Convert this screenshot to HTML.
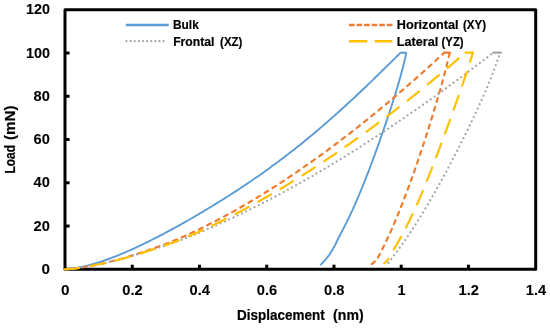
<!DOCTYPE html>
<html lang="en">
<head>
<meta charset="utf-8">
<title>Load vs Displacement</title>
<style>
html,body{margin:0;padding:0;background:#fff;}
body{width:550px;height:328px;overflow:hidden;}
svg{display:block;}
text{font-family:"Liberation Sans",sans-serif;font-weight:bold;fill:#000;stroke:#000;stroke-width:0.2px;}
.tk text{font-size:14.8px;stroke-width:0.08px;}
.ax{font-size:14.2px;}
.lg text{font-size:13.5px;}
</style>
</head>
<body>
<svg width="550" height="328" viewBox="0 0 550 328">
<rect x="0" y="0" width="550" height="328" fill="#fff"/>
<rect x="65" y="9.75" width="470.7" height="259.55" fill="none" stroke="#000" stroke-width="3" stroke-linejoin="round"/>
<g stroke="#000" stroke-width="3" stroke-linecap="butt">
<line x1="65" y1="226.04" x2="69.6" y2="226.04"/>
<line x1="65" y1="182.78" x2="69.6" y2="182.78"/>
<line x1="65" y1="139.52" x2="69.6" y2="139.52"/>
<line x1="65" y1="96.26" x2="69.6" y2="96.26"/>
<line x1="65" y1="53.00" x2="69.6" y2="53.00"/>
<line x1="132.24" y1="269.3" x2="132.24" y2="264.7"/>
<line x1="199.48" y1="269.3" x2="199.48" y2="264.7"/>
<line x1="266.72" y1="269.3" x2="266.72" y2="264.7"/>
<line x1="333.96" y1="269.3" x2="333.96" y2="264.7"/>
<line x1="401.20" y1="269.3" x2="401.20" y2="264.7"/>
<line x1="468.44" y1="269.3" x2="468.44" y2="264.7"/>
</g>
<g class="curves">
<path d="M65.0,269.3 L67.1,269.1 L69.2,268.9 L71.3,268.6 L73.4,268.4 L75.6,268.0 L77.7,267.7 L79.8,267.3 L81.9,266.8 L84.0,266.4 L86.1,265.9 L88.2,265.4 L90.3,264.8 L92.4,264.2 L94.5,263.6 L96.7,263.0 L98.8,262.3 L100.9,261.7 L103.0,261.0 L105.1,260.2 L107.2,259.5 L109.3,258.7 L111.4,257.9 L113.5,257.1 L115.7,256.3 L117.8,255.5 L119.9,254.6 L122.0,253.7 L124.1,252.8 L126.2,251.9 L128.3,251.0 L130.4,250.1 L132.5,249.1 L134.7,248.2 L136.8,247.2 L138.9,246.2 L141.0,245.2 L143.1,244.2 L145.2,243.2 L147.3,242.1 L149.4,241.1 L151.5,240.0 L153.6,238.9 L155.8,237.9 L157.9,236.8 L160.0,235.7 L162.1,234.6 L164.2,233.5 L166.3,232.3 L168.4,231.2 L170.5,230.1 L172.6,228.9 L174.8,227.8 L176.9,226.6 L179.0,225.4 L181.1,224.3 L183.2,223.1 L185.3,221.9 L187.4,220.7 L189.5,219.5 L191.6,218.3 L193.8,217.1 L195.9,215.8 L198.0,214.6 L200.1,213.3 L202.2,212.1 L204.3,210.8 L206.4,209.6 L208.5,208.3 L210.6,207.0 L212.7,205.7 L214.9,204.4 L217.0,203.1 L219.1,201.8 L221.2,200.5 L223.3,199.2 L225.4,197.9 L227.5,196.5 L229.6,195.2 L231.7,193.8 L233.9,192.4 L236.0,191.1 L238.1,189.7 L240.2,188.3 L242.3,186.9 L244.4,185.5 L246.5,184.1 L248.6,182.7 L250.7,181.2 L252.9,179.8 L255.0,178.3 L257.1,176.9 L259.2,175.4 L261.3,173.9 L263.4,172.4 L265.5,170.9 L267.6,169.4 L269.7,167.9 L271.8,166.3 L274.0,164.8 L276.1,163.2 L278.2,161.7 L280.3,160.1 L282.4,158.5 L284.5,156.9 L286.6,155.3 L288.7,153.7 L290.8,152.0 L293.0,150.4 L295.1,148.7 L297.2,147.1 L299.3,145.4 L301.4,143.7 L303.5,142.0 L305.6,140.3 L307.7,138.5 L309.8,136.8 L312.0,135.1 L314.1,133.3 L316.2,131.5 L318.3,129.7 L320.4,127.9 L322.5,126.1 L324.6,124.3 L326.7,122.5 L328.8,120.6 L330.9,118.8 L333.1,116.9 L335.2,115.0 L337.3,113.1 L339.4,111.2 L341.5,109.3 L343.6,107.4 L345.7,105.5 L347.8,103.5 L349.9,101.6 L352.1,99.6 L354.2,97.7 L356.3,95.7 L358.4,93.7 L360.5,91.7 L362.6,89.7 L364.7,87.7 L366.8,85.7 L368.9,83.6 L371.1,81.6 L373.2,79.6 L375.3,77.5 L377.4,75.5 L379.5,73.4 L381.6,71.3 L383.7,69.3 L385.8,67.2 L387.9,65.1 L390.0,63.1 L392.2,61.0 L394.3,58.9 L396.4,56.8 L398.5,54.8 L400.6,52.7 L406.2,52.7 L406.0,54.0 L405.7,55.4 L405.5,56.7 L405.2,58.0 L404.8,59.4 L404.5,60.7 L404.2,62.1 L403.9,63.4 L403.5,64.7 L403.2,66.1 L402.9,67.4 L402.5,68.7 L402.2,70.1 L401.8,71.4 L401.5,72.7 L401.1,74.1 L400.8,75.4 L400.4,76.8 L400.0,78.1 L399.6,79.4 L399.3,80.8 L398.9,82.1 L398.5,83.4 L398.1,84.8 L397.7,86.1 L397.3,87.4 L396.9,88.8 L396.5,90.1 L396.1,91.5 L395.7,92.8 L395.3,94.1 L394.9,95.5 L394.5,96.8 L394.0,98.1 L393.6,99.5 L393.2,100.8 L392.8,102.1 L392.3,103.5 L391.9,104.8 L391.5,106.2 L391.1,107.5 L390.6,108.8 L390.2,110.2 L389.7,111.5 L389.3,112.8 L388.9,114.2 L388.4,115.5 L388.0,116.9 L387.5,118.2 L387.1,119.5 L386.6,120.9 L386.2,122.2 L385.7,123.5 L385.3,124.9 L384.8,126.2 L384.3,127.5 L383.9,128.9 L383.4,130.2 L383.0,131.6 L382.5,132.9 L382.0,134.2 L381.6,135.6 L381.1,136.9 L380.6,138.2 L380.1,139.6 L379.7,140.9 L379.2,142.2 L378.7,143.6 L378.2,144.9 L377.8,146.3 L377.3,147.6 L376.8,148.9 L376.3,150.3 L375.8,151.6 L375.4,152.9 L374.9,154.3 L374.4,155.6 L373.9,156.9 L373.4,158.3 L372.9,159.6 L372.4,161.0 L371.9,162.3 L371.4,163.6 L370.9,165.0 L370.4,166.3 L369.9,167.6 L369.4,169.0 L368.9,170.3 L368.4,171.6 L367.9,173.0 L367.3,174.3 L366.8,175.7 L366.3,177.0 L365.8,178.3 L365.3,179.7 L364.7,181.0 L364.2,182.3 L363.7,183.7 L363.1,185.0 L362.6,186.3 L362.0,187.7 L361.5,189.0 L360.9,190.4 L360.4,191.7 L359.8,193.0 L359.3,194.4 L358.7,195.7 L358.2,197.0 L357.6,198.4 L357.0,199.7 L356.4,201.0 L355.8,202.4 L355.3,203.7 L354.7,205.1 L354.1,206.4 L353.5,207.7 L352.9,209.1 L352.3,210.4 L351.6,211.7 L351.0,213.1 L350.4,214.4 L349.8,215.8 L349.1,217.1 L348.5,218.4 L347.8,219.8 L347.2,221.1 L346.5,222.4 L345.9,223.8 L345.2,225.1 L344.5,226.4 L343.8,227.8 L343.1,229.1 L342.4,230.5 L341.7,231.8 L341.0,233.1 L340.3,234.5 L339.6,235.8 L338.9,237.1 L338.2,238.5 L337.6,239.8 L337.0,241.1 L336.3,242.5 L335.7,243.8 L335.0,245.2 L334.2,246.5 L333.5,247.8 L332.8,249.2 L332.0,250.5 L331.2,251.8 L330.4,253.2 L329.5,254.5 L328.5,255.8 L327.5,257.2 L326.4,258.5 L325.2,259.9 L324.1,261.2 L322.8,262.5 L321.5,263.9 L320.2,265.2" fill="none" stroke="#5B9BD5" stroke-width="1.9" stroke-linejoin="round"/>
<path d="M65.0,269.3 L67.4,269.2 L69.8,269.1 L72.2,268.8 L74.5,268.6 L76.9,268.2 L79.3,267.9 L81.7,267.5 L84.1,267.1 L86.5,266.6 L88.9,266.2 L91.2,265.7 L93.6,265.3 L96.0,264.8 L98.4,264.3 L100.8,263.8 L103.2,263.3 L105.6,262.8 L107.9,262.2 L110.3,261.6 L112.7,261.0 L115.1,260.4 L117.5,259.8 L119.9,259.1 L122.3,258.5 L124.6,257.8 L127.0,257.1 L129.4,256.4 L131.8,255.6 L134.2,254.9 L136.6,254.1 L139.0,253.3 L141.3,252.5 L143.7,251.7 L146.1,250.9 L148.5,250.1 L150.9,249.2 L153.3,248.4 L155.7,247.6 L158.0,246.7 L160.4,245.8 L162.8,245.0 L165.2,244.1 L167.6,243.2 L170.0,242.2 L172.3,241.3 L174.7,240.3 L177.1,239.3 L179.5,238.3 L181.9,237.3 L184.3,236.2 L186.7,235.2 L189.0,234.1 L191.4,233.0 L193.8,231.8 L196.2,230.7 L198.6,229.6 L201.0,228.4 L203.4,227.2 L205.7,226.0 L208.1,224.8 L210.5,223.6 L212.9,222.4 L215.3,221.2 L217.7,219.9 L220.1,218.7 L222.4,217.4 L224.8,216.1 L227.2,214.8 L229.6,213.5 L232.0,212.2 L234.4,210.9 L236.8,209.5 L239.1,208.2 L241.5,206.8 L243.9,205.4 L246.3,204.0 L248.7,202.6 L251.1,201.2 L253.5,199.8 L255.8,198.4 L258.2,196.9 L260.6,195.5 L263.0,194.0 L265.4,192.5 L267.8,191.0 L270.2,189.5 L272.5,188.0 L274.9,186.5 L277.3,184.9 L279.7,183.4 L282.1,181.8 L284.5,180.3 L286.9,178.7 L289.2,177.1 L291.6,175.5 L294.0,173.9 L296.4,172.3 L298.8,170.6 L301.2,169.0 L303.6,167.3 L305.9,165.7 L308.3,164.0 L310.7,162.3 L313.1,160.6 L315.5,158.9 L317.9,157.2 L320.3,155.5 L322.6,153.8 L325.0,152.0 L327.4,150.3 L329.8,148.5 L332.2,146.7 L334.6,145.0 L337.0,143.2 L339.3,141.4 L341.7,139.5 L344.1,137.7 L346.5,135.9 L348.9,134.0 L351.3,132.2 L353.6,130.3 L356.0,128.5 L358.4,126.6 L360.8,124.7 L363.2,122.8 L365.6,120.9 L368.0,119.0 L370.3,117.0 L372.7,115.1 L375.1,113.1 L377.5,111.2 L379.9,109.2 L382.3,107.3 L384.7,105.3 L387.0,103.3 L389.4,101.3 L391.8,99.3 L394.2,97.2 L396.6,95.2 L399.0,93.2 L401.4,91.1 L403.7,89.1 L406.1,87.0 L408.5,84.9 L410.9,82.8 L413.3,80.7 L415.7,78.6 L418.1,76.5 L420.4,74.4 L422.8,72.3 L425.2,70.1 L427.6,68.0 L430.0,65.8 L432.4,63.7 L434.8,61.5 L437.1,59.3 L439.5,57.1 L441.9,54.9 L444.3,52.7" fill="none" stroke="#ED7D31" stroke-width="2.2" stroke-linecap="round" stroke-dasharray="4.10,5.30" stroke-dashoffset="0.64"/>
<path d="M449.8,52.7 L449.4,54.0 L449.1,55.4 L448.8,56.7 L448.4,58.0 L448.1,59.4 L447.8,60.7 L447.5,62.0 L447.2,63.4 L446.8,64.7 L446.5,66.0 L446.2,67.4 L445.8,68.7 L445.5,70.0 L445.2,71.4 L444.8,72.7 L444.5,74.0 L444.1,75.4 L443.8,76.7 L443.4,78.0 L443.0,79.4 L442.7,80.7 L442.3,82.0 L442.0,83.4 L441.6,84.7 L441.2,86.0 L440.8,87.4 L440.5,88.7 L440.1,90.0 L439.7,91.3 L439.3,92.7 L439.0,94.0 L438.6,95.3 L438.2,96.7 L437.8,98.0 L437.4,99.3 L437.0,100.7 L436.6,102.0 L436.2,103.3 L435.8,104.7 L435.4,106.0 L435.0,107.3 L434.6,108.7 L434.2,110.0 L433.8,111.3 L433.4,112.7 L433.0,114.0 L432.6,115.3 L432.2,116.7 L431.8,118.0 L431.4,119.3 L431.0,120.7 L430.6,122.0 L430.1,123.3 L429.7,124.7 L429.3,126.0 L428.9,127.3 L428.5,128.7 L428.0,130.0 L427.6,131.3 L427.2,132.7 L426.8,134.0 L426.3,135.3 L425.9,136.7 L425.5,138.0 L425.1,139.3 L424.6,140.7 L424.2,142.0 L423.8,143.3 L423.3,144.7 L422.9,146.0 L422.4,147.3 L422.0,148.7 L421.6,150.0 L421.1,151.3 L420.7,152.7 L420.2,154.0 L419.8,155.3 L419.3,156.7 L418.9,158.0 L418.4,159.3 L418.0,160.6 L417.5,162.0 L417.1,163.3 L416.6,164.6 L416.1,166.0 L415.7,167.3 L415.2,168.6 L414.7,170.0 L414.3,171.3 L413.8,172.6 L413.3,174.0 L412.9,175.3 L412.4,176.6 L411.9,178.0 L411.4,179.3 L411.0,180.6 L410.5,182.0 L410.0,183.3 L409.5,184.6 L409.0,186.0 L408.5,187.3 L408.0,188.6 L407.6,190.0 L407.1,191.3 L406.6,192.6 L406.1,194.0 L405.5,195.3 L405.0,196.6 L404.5,198.0 L404.0,199.3 L403.5,200.6 L403.0,202.0 L402.5,203.3 L401.9,204.6 L401.4,206.0 L400.9,207.3 L400.4,208.6 L399.8,210.0 L399.3,211.3 L398.7,212.6 L398.2,214.0 L397.6,215.3 L397.1,216.6 L396.5,218.0 L396.0,219.3 L395.4,220.6 L394.8,222.0 L394.3,223.3 L393.7,224.6 L393.1,226.0 L392.5,227.3 L392.0,228.6 L391.4,229.9 L390.8,231.3 L390.2,232.6 L389.6,233.9 L388.9,235.3 L388.3,236.6 L387.7,237.9 L387.1,239.3 L386.5,240.6 L385.8,241.9 L385.2,243.3 L384.5,244.6 L383.9,245.9 L383.2,247.3 L382.6,248.6 L381.9,249.9 L381.2,251.3 L380.6,252.6 L379.9,253.9 L379.2,255.3 L378.4,256.6 L377.6,257.9 L376.7,259.3 L375.7,260.6 L374.4,261.9 L372.9,263.3 L370.4,264.6" fill="none" stroke="#ED7D31" stroke-width="2.2" stroke-linecap="round" stroke-dasharray="4.00,5.25" stroke-dashoffset="8.56"/>
<path d="M444.3,52.7 L449.8,52.7" fill="none" stroke="#ED7D31" stroke-width="2.2" stroke-linecap="round"/>
<path d="M65.0,269.3 L67.7,269.2 L70.4,269.0 L73.1,268.7 L75.8,268.3 L78.5,267.9 L81.2,267.4 L83.9,266.9 L86.5,266.4 L89.2,265.9 L91.9,265.4 L94.6,264.9 L97.3,264.4 L100.0,263.8 L102.7,263.3 L105.4,262.7 L108.1,262.1 L110.8,261.5 L113.5,260.8 L116.2,260.2 L118.9,259.5 L121.6,258.8 L124.2,258.1 L126.9,257.3 L129.6,256.6 L132.3,255.8 L135.0,255.0 L137.7,254.2 L140.4,253.4 L143.1,252.6 L145.8,251.7 L148.5,250.9 L151.2,250.1 L153.9,249.2 L156.6,248.4 L159.3,247.5 L162.0,246.7 L164.6,245.8 L167.3,244.9 L170.0,244.0 L172.7,243.0 L175.4,242.1 L178.1,241.1 L180.8,240.1 L183.5,239.1 L186.2,238.0 L188.9,236.9 L191.6,235.9 L194.3,234.8 L197.0,233.7 L199.7,232.5 L202.3,231.4 L205.0,230.3 L207.7,229.1 L210.4,227.9 L213.1,226.8 L215.8,225.6 L218.5,224.4 L221.2,223.1 L223.9,221.9 L226.6,220.7 L229.3,219.4 L232.0,218.2 L234.7,216.9 L237.4,215.6 L240.1,214.3 L242.7,213.0 L245.4,211.7 L248.1,210.4 L250.8,209.1 L253.5,207.7 L256.2,206.4 L258.9,205.0 L261.6,203.6 L264.3,202.2 L267.0,200.8 L269.7,199.4 L272.4,198.0 L275.1,196.6 L277.8,195.2 L280.4,193.7 L283.1,192.3 L285.8,190.8 L288.5,189.3 L291.2,187.9 L293.9,186.4 L296.6,184.9 L299.3,183.4 L302.0,181.8 L304.7,180.3 L307.4,178.8 L310.1,177.2 L312.8,175.7 L315.5,174.1 L318.1,172.5 L320.8,171.0 L323.5,169.4 L326.2,167.8 L328.9,166.2 L331.6,164.5 L334.3,162.9 L337.0,161.3 L339.7,159.6 L342.4,158.0 L345.1,156.3 L347.8,154.6 L350.5,153.0 L353.2,151.3 L355.9,149.6 L358.5,147.9 L361.2,146.2 L363.9,144.4 L366.6,142.7 L369.3,141.0 L372.0,139.2 L374.7,137.5 L377.4,135.7 L380.1,134.0 L382.8,132.2 L385.5,130.4 L388.2,128.6 L390.9,126.8 L393.6,125.0 L396.2,123.2 L398.9,121.3 L401.6,119.5 L404.3,117.7 L407.0,115.8 L409.7,114.0 L412.4,112.1 L415.1,110.2 L417.8,108.3 L420.5,106.5 L423.2,104.6 L425.9,102.7 L428.6,100.8 L431.3,98.8 L434.0,96.9 L436.6,95.0 L439.3,93.0 L442.0,91.1 L444.7,89.1 L447.4,87.2 L450.1,85.2 L452.8,83.2 L455.5,81.2 L458.2,79.2 L460.9,77.3 L463.6,75.2 L466.3,73.2 L469.0,71.2 L471.7,69.2 L474.3,67.1 L477.0,65.1 L479.7,63.1 L482.4,61.0 L485.1,58.9 L487.8,56.9 L490.5,54.8 L493.2,52.7" fill="none" stroke="#A5A5A5" stroke-width="2.2" stroke-linecap="round" stroke-dasharray="0.01,4.69" stroke-dashoffset="1.56"/>
<path d="M500.8,52.7 L500.0,54.0 L499.3,55.4 L498.7,56.7 L498.3,58.0 L497.8,59.4 L497.4,60.7 L496.9,62.1 L496.5,63.4 L496.0,64.7 L495.5,66.1 L495.0,67.4 L494.5,68.7 L494.0,70.1 L493.5,71.4 L493.0,72.8 L492.4,74.1 L491.9,75.4 L491.4,76.8 L490.9,78.1 L490.3,79.4 L489.8,80.8 L489.2,82.1 L488.7,83.5 L488.1,84.8 L487.6,86.1 L487.0,87.5 L486.4,88.8 L485.9,90.1 L485.3,91.5 L484.7,92.8 L484.1,94.2 L483.6,95.5 L483.0,96.8 L482.4,98.2 L481.8,99.5 L481.2,100.8 L480.6,102.2 L480.0,103.5 L479.4,104.8 L478.8,106.2 L478.2,107.5 L477.6,108.9 L476.9,110.2 L476.3,111.5 L475.7,112.9 L475.1,114.2 L474.4,115.5 L473.8,116.9 L473.2,118.2 L472.5,119.6 L471.9,120.9 L471.3,122.2 L470.6,123.6 L470.0,124.9 L469.3,126.2 L468.7,127.6 L468.0,128.9 L467.4,130.3 L466.7,131.6 L466.1,132.9 L465.4,134.3 L464.8,135.6 L464.1,136.9 L463.4,138.3 L462.8,139.6 L462.1,140.9 L461.4,142.3 L460.8,143.6 L460.1,145.0 L459.4,146.3 L458.7,147.6 L458.0,149.0 L457.4,150.3 L456.7,151.6 L456.0,153.0 L455.3,154.3 L454.6,155.7 L453.9,157.0 L453.2,158.3 L452.5,159.7 L451.8,161.0 L451.1,162.3 L450.4,163.7 L449.7,165.0 L449.0,166.4 L448.3,167.7 L447.6,169.0 L446.9,170.4 L446.2,171.7 L445.4,173.0 L444.7,174.4 L444.0,175.7 L443.3,177.1 L442.5,178.4 L441.8,179.7 L441.1,181.1 L440.3,182.4 L439.6,183.7 L438.9,185.1 L438.1,186.4 L437.4,187.7 L436.6,189.1 L435.9,190.4 L435.1,191.8 L434.3,193.1 L433.6,194.4 L432.8,195.8 L432.0,197.1 L431.3,198.4 L430.5,199.8 L429.7,201.1 L428.9,202.5 L428.2,203.8 L427.4,205.1 L426.6,206.5 L425.8,207.8 L425.0,209.1 L424.2,210.5 L423.4,211.8 L422.5,213.2 L421.7,214.5 L420.9,215.8 L420.1,217.2 L419.3,218.5 L418.4,219.8 L417.6,221.2 L416.7,222.5 L415.9,223.8 L415.0,225.2 L414.2,226.5 L413.3,227.9 L412.4,229.2 L411.6,230.5 L410.7,231.9 L409.8,233.2 L408.9,234.5 L408.0,235.9 L407.1,237.2 L406.2,238.6 L405.3,239.9 L404.4,241.2 L403.4,242.6 L402.5,243.9 L401.5,245.2 L400.6,246.6 L399.6,247.9 L398.7,249.3 L397.7,250.6 L396.7,251.9 L395.7,253.3 L394.7,254.6 L393.7,255.9 L392.7,257.3 L391.7,258.6 L390.7,260.0 L389.6,261.3 L388.6,262.6 L387.6,264.0 L386.5,265.3" fill="none" stroke="#A5A5A5" stroke-width="2.2" stroke-linecap="round" stroke-dasharray="0.01,4.69" stroke-dashoffset="0.62"/>
<path d="M493.2,52.7 L500.8,52.7" fill="none" stroke="#A5A5A5" stroke-width="2.2" stroke-linecap="round"/>
<path d="M65.0,269.3 L67.5,269.2 L70.0,269.0 L72.6,268.8 L75.1,268.5 L77.6,268.1 L80.1,267.7 L82.6,267.3 L85.1,266.9 L87.7,266.4 L90.2,266.0 L92.7,265.5 L95.2,265.0 L97.7,264.5 L100.3,264.0 L102.8,263.5 L105.3,263.0 L107.8,262.4 L110.3,261.8 L112.8,261.2 L115.4,260.6 L117.9,260.0 L120.4,259.3 L122.9,258.6 L125.4,257.9 L128.0,257.2 L130.5,256.5 L133.0,255.8 L135.5,255.0 L138.0,254.2 L140.5,253.4 L143.1,252.6 L145.6,251.8 L148.1,251.0 L150.6,250.2 L153.1,249.4 L155.7,248.5 L158.2,247.7 L160.7,246.9 L163.2,246.0 L165.7,245.1 L168.2,244.2 L170.8,243.3 L173.3,242.4 L175.8,241.4 L178.3,240.4 L180.8,239.4 L183.4,238.4 L185.9,237.4 L188.4,236.3 L190.9,235.2 L193.4,234.1 L195.9,233.0 L198.5,231.9 L201.0,230.7 L203.5,229.6 L206.0,228.4 L208.5,227.3 L211.1,226.1 L213.6,224.9 L216.1,223.7 L218.6,222.4 L221.1,221.2 L223.6,220.0 L226.2,218.7 L228.7,217.4 L231.2,216.2 L233.7,214.9 L236.2,213.6 L238.8,212.2 L241.3,210.9 L243.8,209.6 L246.3,208.2 L248.8,206.9 L251.3,205.5 L253.9,204.1 L256.4,202.7 L258.9,201.3 L261.4,199.9 L263.9,198.5 L266.5,197.0 L269.0,195.6 L271.5,194.1 L274.0,192.6 L276.5,191.2 L279.1,189.7 L281.6,188.2 L284.1,186.7 L286.6,185.1 L289.1,183.6 L291.6,182.1 L294.2,180.5 L296.7,178.9 L299.2,177.4 L301.7,175.8 L304.2,174.2 L306.8,172.6 L309.3,171.0 L311.8,169.3 L314.3,167.7 L316.8,166.1 L319.3,164.4 L321.9,162.7 L324.4,161.1 L326.9,159.4 L329.4,157.7 L331.9,156.0 L334.5,154.3 L337.0,152.6 L339.5,150.8 L342.0,149.1 L344.5,147.3 L347.0,145.6 L349.6,143.8 L352.1,142.0 L354.6,140.2 L357.1,138.4 L359.6,136.6 L362.2,134.8 L364.7,133.0 L367.2,131.1 L369.7,129.3 L372.2,127.5 L374.7,125.6 L377.3,123.7 L379.8,121.8 L382.3,119.9 L384.8,118.0 L387.3,116.1 L389.9,114.2 L392.4,112.3 L394.9,110.4 L397.4,108.4 L399.9,106.5 L402.4,104.5 L405.0,102.5 L407.5,100.6 L410.0,98.6 L412.5,96.6 L415.0,94.6 L417.6,92.6 L420.1,90.5 L422.6,88.5 L425.1,86.5 L427.6,84.4 L430.1,82.4 L432.7,80.3 L435.2,78.2 L437.7,76.1 L440.2,74.1 L442.7,72.0 L445.3,69.9 L447.8,67.7 L450.3,65.6 L452.8,63.5 L455.3,61.3 L457.8,59.2 L460.4,57.0 L462.9,54.9 L465.4,52.7" fill="none" stroke="#FFC000" stroke-width="2.2" stroke-linecap="round" stroke-dasharray="14.60,11.20" stroke-dashoffset="0.19"/>
<path d="M473.0,52.7 L472.5,54.0 L472.1,55.3 L471.7,56.7 L471.3,58.0 L470.8,59.3 L470.4,60.6 L470.0,62.0 L469.6,63.3 L469.2,64.6 L468.7,65.9 L468.3,67.3 L467.9,68.6 L467.4,69.9 L467.0,71.2 L466.6,72.6 L466.1,73.9 L465.7,75.2 L465.2,76.5 L464.8,77.9 L464.3,79.2 L463.9,80.5 L463.4,81.8 L463.0,83.2 L462.5,84.5 L462.1,85.8 L461.6,87.1 L461.1,88.5 L460.7,89.8 L460.2,91.1 L459.8,92.4 L459.3,93.8 L458.8,95.1 L458.4,96.4 L457.9,97.7 L457.4,99.1 L457.0,100.4 L456.5,101.7 L456.0,103.0 L455.6,104.4 L455.1,105.7 L454.6,107.0 L454.1,108.3 L453.7,109.7 L453.2,111.0 L452.7,112.3 L452.2,113.6 L451.8,115.0 L451.3,116.3 L450.8,117.6 L450.3,118.9 L449.8,120.3 L449.4,121.6 L448.9,122.9 L448.4,124.2 L447.9,125.5 L447.4,126.9 L446.9,128.2 L446.5,129.5 L446.0,130.8 L445.5,132.2 L445.0,133.5 L444.5,134.8 L444.0,136.1 L443.5,137.5 L443.0,138.8 L442.6,140.1 L442.1,141.4 L441.6,142.8 L441.1,144.1 L440.6,145.4 L440.1,146.7 L439.6,148.1 L439.1,149.4 L438.6,150.7 L438.1,152.0 L437.6,153.4 L437.1,154.7 L436.6,156.0 L436.1,157.3 L435.6,158.7 L435.1,160.0 L434.6,161.3 L434.1,162.6 L433.6,164.0 L433.1,165.3 L432.6,166.6 L432.0,167.9 L431.5,169.3 L431.0,170.6 L430.5,171.9 L430.0,173.2 L429.4,174.6 L428.9,175.9 L428.4,177.2 L427.9,178.5 L427.3,179.9 L426.8,181.2 L426.3,182.5 L425.7,183.8 L425.2,185.2 L424.6,186.5 L424.1,187.8 L423.5,189.1 L423.0,190.5 L422.4,191.8 L421.9,193.1 L421.3,194.4 L420.8,195.7 L420.2,197.1 L419.6,198.4 L419.0,199.7 L418.5,201.0 L417.9,202.4 L417.3,203.7 L416.7,205.0 L416.1,206.3 L415.5,207.7 L414.9,209.0 L414.3,210.3 L413.7,211.6 L413.1,213.0 L412.5,214.3 L411.8,215.6 L411.2,216.9 L410.6,218.3 L409.9,219.6 L409.3,220.9 L408.6,222.2 L408.0,223.6 L407.3,224.9 L406.7,226.2 L406.0,227.5 L405.3,228.9 L404.6,230.2 L403.9,231.5 L403.2,232.8 L402.5,234.2 L401.8,235.5 L401.1,236.8 L400.3,238.1 L399.6,239.5 L398.9,240.8 L398.1,242.1 L397.4,243.4 L396.6,244.8 L395.8,246.1 L395.0,247.4 L394.2,248.7 L393.4,250.1 L392.6,251.4 L391.8,252.7 L390.9,254.0 L390.1,255.4 L389.4,256.7 L388.8,258.0 L388.0,259.3 L387.0,260.7 L385.7,262.0 L384.2,263.3" fill="none" stroke="#FFC000" stroke-width="2.2" stroke-linecap="round" stroke-dasharray="14.60,10.80" stroke-dashoffset="5.20"/>
<path d="M465.4,52.7 L473.0,52.7" fill="none" stroke="#FFC000" stroke-width="2.2" stroke-linecap="round"/>
</g>
<g class="tk">
<text x="49.9" y="273.8" text-anchor="end" textLength="8.5" lengthAdjust="spacingAndGlyphs">0</text>
<text x="49.9" y="230.5" text-anchor="end" textLength="16.3" lengthAdjust="spacingAndGlyphs">20</text>
<text x="49.9" y="187.3" text-anchor="end" textLength="16.3" lengthAdjust="spacingAndGlyphs">40</text>
<text x="49.9" y="144.0" text-anchor="end" textLength="16.3" lengthAdjust="spacingAndGlyphs">60</text>
<text x="49.9" y="100.8" text-anchor="end" textLength="16.3" lengthAdjust="spacingAndGlyphs">80</text>
<text x="49.9" y="57.5" text-anchor="end" textLength="24.0" lengthAdjust="spacingAndGlyphs">100</text>
<text x="49.9" y="14.2" text-anchor="end" textLength="24.0" lengthAdjust="spacingAndGlyphs">120</text>
<text x="65.3" y="295.4" text-anchor="middle" textLength="8.5" lengthAdjust="spacingAndGlyphs">0</text>
<text x="132.5" y="295.4" text-anchor="middle" textLength="20.4" lengthAdjust="spacingAndGlyphs">0.2</text>
<text x="199.8" y="295.4" text-anchor="middle" textLength="20.4" lengthAdjust="spacingAndGlyphs">0.4</text>
<text x="267.0" y="295.4" text-anchor="middle" textLength="20.4" lengthAdjust="spacingAndGlyphs">0.6</text>
<text x="334.3" y="295.4" text-anchor="middle" textLength="20.4" lengthAdjust="spacingAndGlyphs">0.8</text>
<text x="401.5" y="295.4" text-anchor="middle" textLength="8.1" lengthAdjust="spacingAndGlyphs">1</text>
<text x="468.7" y="295.4" text-anchor="middle" textLength="20.4" lengthAdjust="spacingAndGlyphs">1.2</text>
<text x="536.0" y="295.4" text-anchor="middle" textLength="20.4" lengthAdjust="spacingAndGlyphs">1.4</text>
</g>
<text class="ax" y="319.9"><tspan x="237.1" textLength="87.6" lengthAdjust="spacingAndGlyphs">Displacement</tspan> <tspan x="333.1" textLength="30.5" lengthAdjust="spacingAndGlyphs">(nm)</tspan></text>
<text class="ax" transform="translate(14.8,0) rotate(-90)" y="0"><tspan x="-173.5" textLength="28.5" lengthAdjust="spacingAndGlyphs">Load</tspan> <tspan x="-140" textLength="34.5" lengthAdjust="spacingAndGlyphs">(mN)</tspan></text>
<g class="lg">
<line x1="125.8" y1="25" x2="168.7" y2="25" stroke="#5B9BD5" stroke-width="2.3"/>
<text x="173.0" y="29.1" textLength="25.8" lengthAdjust="spacingAndGlyphs">Bulk</text>
<line x1="126.5" y1="41.2" x2="165" y2="41.2" stroke="#A5A5A5" stroke-width="2.2" stroke-linecap="round" stroke-dasharray="0.01,4.11"/>
<text y="45.5"><tspan x="173.2" textLength="41.2" lengthAdjust="spacingAndGlyphs">Frontal</tspan> <tspan x="220.1" textLength="22.2" lengthAdjust="spacingAndGlyphs">(XZ)</tspan></text>
<line x1="349" y1="25" x2="392.4" y2="25" stroke="#ED7D31" stroke-width="2.4" stroke-dasharray="5.6,1.96"/>
<text y="29.3"><tspan x="396.8" textLength="61.8" lengthAdjust="spacingAndGlyphs">Horizontal</tspan> <tspan x="463" textLength="23.1" lengthAdjust="spacingAndGlyphs">(XY)</tspan></text>
<line x1="349" y1="41.3" x2="392.4" y2="41.3" stroke="#FFC000" stroke-width="2.4" stroke-dasharray="18.4,7.4"/>
<text y="45.5"><tspan x="396.8" textLength="41.5" lengthAdjust="spacingAndGlyphs">Lateral</tspan> <tspan x="441.6" textLength="22" lengthAdjust="spacingAndGlyphs">(YZ)</tspan></text>
</g>
</svg>
</body>
</html>
